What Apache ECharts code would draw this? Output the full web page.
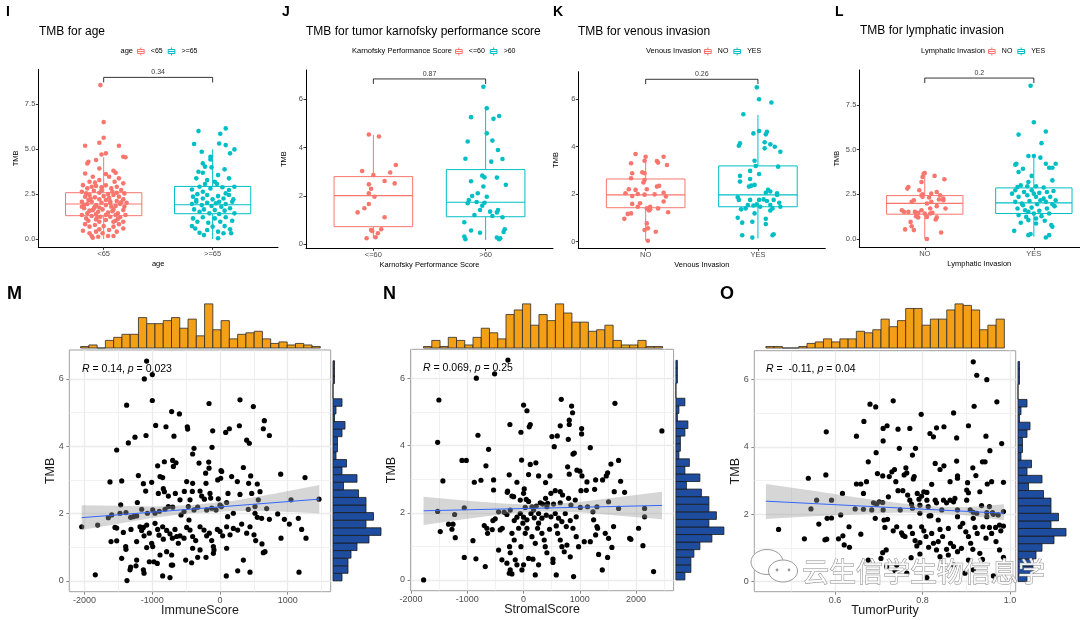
<!DOCTYPE html>
<html>
<head>
<meta charset="utf-8">
<title>TMB panels</title>
<script src="https://cdn.jsdelivr.net/npm/echarts@6/dist/echarts.min.js"></script>
<style>
html, body { margin: 0; padding: 0; background: #fff; }
#main { width: 1080px; height: 620px; }
</style>
</head>
<body>
<div id="main"></div>
<script>
var FONT = '"Liberation Sans", Arial, sans-serif';
var RED = '#F8766D', TEAL = '#00BFC4';
var ORANGE = '#F4A016', BLUE = '#1E4C9E';

// ---------- box panels: [lo, q1, median, q3, hi], points are [jitter, TMB] ----------
var ageCats = ['<65', '>=65'];
var ageBox = [[0.0, 1.3, 1.95, 2.58, 4.55], [0.0, 1.41, 1.91, 2.93, 5.0]];
var ageLowPts = [[-0.03,8.57],[0,6.51],[0,5.64],[-0.04,5.36],[-0.17,5.19],[0.14,5.19],[-0.02,4.71],[0.02,4.77],[-0.07,4.4],[0.18,4.58],[0.2,4.55],[-0.14,4.3],[-0.15,4.21],[-0.04,3.93],[0.09,3.8],[0.11,3.69],[-0.17,3.65],[-0.1,3.47],[-0.04,3.28],[0.14,3.38],[0.18,3.1],[-0.19,3.0],
[-0.2,2.63],[-0.15,2.82],[-0.11,2.91],[-0.07,2.95],[-0.02,2.88],[0.02,2.99],[0.07,2.82],[0.12,2.91],[0.16,2.73],[0.19,2.54],[-0.17,2.36],[-0.13,2.45],[-0.08,2.32],[-0.04,2.21],[0,2.39],[0.05,2.3],[0.09,2.45],[0.14,2.36],[0.18,2.21],[0.21,2.02],[-0.2,2.08],[-0.15,1.95],[-0.11,2.08],[-0.07,1.89],[-0.02,2.02],[0.02,1.89],[0.06,2.02],[0.11,1.84],[0.15,1.95],[-0.18,1.71],[-0.13,1.58],[-0.09,1.71],[-0.05,1.52],[-0.01,1.65],[0.04,1.47],[0.09,1.65],[0.13,1.43],[0.18,1.61],[-0.2,1.34],[-0.16,1.15],[-0.11,1.28],[-0.07,1.09],[-0.03,1.24],[0.02,1.06],[0.06,1.24],[0.11,1.02],[0.15,1.21],[0.2,1.34],[-0.17,0.83],[-0.13,0.69],[-0.08,0.78],[-0.04,0.54],[0,0.72],[0.05,0.5],[0.09,0.69],[0.14,0.83],[0.18,0.59],[-0.19,0.46],[-0.11,0.17],[-0.1,0.07],[-0.05,0.13],[0.04,0.17],[0.09,0.17],[-0.13,0.32],[-0.01,0.32],
[-0.16,2.54],[-0.09,2.69],[-0.04,2.58],[0.08,2.63],[0.12,2.58],[-0.14,2.17],[0.02,2.17],[0.12,2.12],[-0.2,1.8],[-0.08,1.8],[-0.04,1.76],[0.07,1.8],[0.19,1.8],[-0.15,1.43],[-0.07,1.39],[0.02,1.34],[0.11,1.34],[-0.14,1.02],[-0.04,0.96],[0.09,0.96],[0.18,0.96],[-0.07,0.41],[0.12,0.41],[0.05,3.47],[0.02,3.62],[-0.13,3.19],[0.1,3.19],[-0.08,3.14],
[-0.12,2.25],[0.04,2.5],[0.16,2.05],[-0.18,1.9],[0.08,1.55],[-0.06,1.2],[0.13,1.12],[-0.02,2.7],[0.06,2.1],[-0.1,1.6]];
var ageHighPts = [[-0.13,6.01],[0.12,6.16],[0.07,5.86],[-0.17,5.29],[0.06,5.32],[0.12,5.23],[0.2,4.99],[-0.1,4.86],[0.16,4.77],[-0.02,4.58],[-0.02,4.43],[-0.09,4.21],[-0.07,4.03],[-0.01,3.99],[-0.13,3.75],[-0.09,3.69],[0.11,3.88],[0.05,3.56],[-0.15,3.38],[-0.05,3.28],[0.02,3.19],[0.15,3.38],[0.2,2.91],
[-0.19,2.76],[-0.12,2.91],[-0.07,3.06],[-0.02,2.82],[0.04,3.06],[0.09,2.88],[0.15,2.73],[-0.18,2.36],[-0.14,2.5],[-0.09,2.26],[-0.05,2.45],[0,2.21],[0.05,2.39],[0.1,2.26],[0.15,2.45],[0.19,2.21],[-0.19,1.95],[-0.15,2.08],[-0.1,1.89],[-0.05,2.02],[-0.01,1.84],[0.03,1.99],[0.08,1.8],[0.12,1.95],[0.18,2.08],
[-0.17,1.65],[-0.12,1.52],[-0.08,1.65],[-0.03,1.43],[0.02,1.61],[0.06,1.39],[0.11,1.58],[0.16,1.71],[0.2,1.43],[-0.18,1.15],[-0.14,0.96],[-0.09,1.21],[-0.04,0.91],[0.02,1.15],[0.07,0.96],[0.12,1.21],[0.18,1.02],[-0.16,0.59],[-0.12,0.35],[-0.05,0.5],[0,0.69],[0.05,0.41],[0.1,0.32],[0.16,0.54],[0.17,0.32],[0.05,0.04],[-0.19,0.72],[-0.08,0.22],[0.11,0.72],[-0.15,2.17],[0.06,2.08],[-0.09,2.63],[0.12,2.54]];
var ageTicks = [0, 2.5, 5, 7.5];
var ageBracket = [8.72, 9.0];
var ageP = '0.34';

var kpsCats = ['<=60', '>60'];
var kpsBox = [[0.25, 0.73, 2.01, 2.8, 4.52], [0.18, 1.14, 1.74, 3.09, 5.69]];
var kpsLowPts = [[-0.04,4.54],[0.05,4.46],[0.2,3.28],[-0.1,3.03],[0.15,2.97],[0,2.87],[0.1,2.62],[0.19,2.52],[-0.04,2.48],[-0.02,2.3],[-0.04,2.11],[0.01,1.97],[-0.04,1.67],[-0.08,1.49],[-0.14,1.32],[0.1,1.12],[-0.02,0.59],[-0.01,0.55],[0.07,0.62],[0.04,0.46],[0.02,0.29],[-0.06,0.25]];
var kpsHighPts = [[-0.02,6.52],[0.01,5.63],[-0.13,5.26],[0.12,5.31],[0.07,5.19],[0.01,4.59],[-0.16,4.25],[0.06,4.29],[0.11,3.9],[-0.18,3.54],[0.15,3.53],[0.05,3.42],[-0.03,2.84],[-0.01,2.77],[0.1,2.76],[-0.13,2.61],[0.18,2.46],[-0.02,2.39],[-0.07,2.11],[-0.12,2.0],[0.01,1.97],[-0.15,1.83],[-0.16,1.7],[-0.08,1.75],[-0.01,1.72],[-0.03,1.6],[-0.05,1.42],[-0.1,1.21],[0.04,1.35],[0.11,1.42],[0.1,1.32],[0.06,1.17],[0.15,1.12],[-0.19,0.91],[0.17,0.62],[0.16,0.51],[-0.13,0.57],[-0.05,0.48],[-0.19,0.32],[-0.18,0.21],[0.1,0.28],[0.12,0.21],[0.13,0.25]];
var kpsTicks = [0, 2, 4, 6];
var kpsBracket = [6.63, 6.84];
var kpsP = '0.87';

var venCats = ['NO', 'YES'];
var venBox = [[0.04, 1.43, 1.97, 2.64, 3.61], [0.14, 1.47, 1.97, 3.19, 5.34]];
var venNoPts = [[-0.09,3.69],[0,3.58],[-0.01,3.41],[0.16,3.58],[0.1,3.4],[0.11,3.33],[0.19,3.23],[-0.13,3.3],[-0.03,2.92],[-0.01,2.88],[-0.12,2.88],[-0.13,2.67],[-0.02,2.49],[-0.01,2.6],[0.1,2.32],[0.12,2.35],[-0.15,2.21],[-0.09,2.18],[0.01,2.21],[-0.18,2.04],[-0.12,1.92],[-0.07,2.01],[-0.01,1.98],[0.08,1.99],[0.16,2.06],[0.18,1.9],[0.16,1.69],[-0.05,1.62],[-0.07,1.47],[-0.12,1.59],[0.04,1.47],[0.03,1.31],[0.04,1.36],[0.01,1.4],[0.11,1.4],[0.2,1.24],[-0.13,1.19],[-0.16,1.17],[-0.19,0.96],[0.01,0.77],[-0.01,0.49],[0.02,0.56],[0.09,0.42],[0.02,0.04]];
var venYesPts = [[-0.01,6.5],[0.01,6.0],[0.12,5.86],[-0.13,5.37],[-0.04,4.56],[0.01,4.66],[0.07,4.52],[0.08,4.63],[-0.16,4.14],[-0.17,4.04],[0.06,4.19],[0.11,4.1],[0.15,4.0],[0.2,3.79],[0.06,3.93],[-0.03,3.41],[-0.02,3.19],[0.18,3.16],[-0.07,2.98],[-0.16,2.77],[0.01,2.85],[-0.16,2.53],[-0.07,2.64],[-0.06,2.36],[-0.03,2.39],[-0.08,2.32],[0.09,2.18],[0.07,2.06],[0.11,2.11],[0.17,2.04],[0.17,1.97],[-0.18,1.87],[-0.17,1.76],[-0.07,1.76],[0.01,1.76],[0.05,1.78],[0.08,1.71],[0.14,1.76],[0.19,1.64],[0.2,1.47],[-0.09,1.54],[-0.04,1.52],[-0.01,1.57],[0.02,1.47],[0.11,1.54],[0.13,1.4],[-0.15,1.36],[-0.11,1.4],[0.11,1.31],[-0.03,1.19],[-0.18,1.01],[-0.14,0.8],[-0.05,0.84],[0.07,0.96],[0.07,0.74],[-0.14,0.27],[-0.05,0.17],[0.14,0.31],[0.13,0.27]];
var venTicks = [0, 2, 4, 6];
var venBracket = [6.64, 6.84];
var venP = '0.26';

var lymCats = ['NO', 'YES'];
var lymBox = [[0.0, 1.39, 1.99, 2.43, 3.69], [0.13, 1.43, 2.02, 2.86, 4.68]];
var lymNoPts = [[-0.01,3.65],[0,3.69],[-0.02,3.47],[-0.03,3.19],[0.09,3.53],[0.18,3.34],[-0.15,2.91],[-0.16,2.82],[-0.05,2.73],[-0.02,2.5],[0.11,2.63],[0.06,2.54],[0.14,2.45],[-0.02,2.36],[0.04,2.32],[0.17,2.26],[0.17,2.17],[-0.1,2.17],[-0.12,2.08],[0.13,2.21],[0.19,1.71],[0.02,1.99],[0.06,2.08],[0.11,1.84],[-0.21,1.61],[-0.19,1.52],[-0.15,1.52],[-0.09,1.52],[-0.06,1.47],[0,1.43],[0.05,1.43],[0.07,1.47],[-0.03,1.61],[-0.06,1.21],[0.02,1.24],[0.1,1.09],[0.11,1.21],[-0.08,1.28],[-0.13,0.96],[-0.12,0.72],[-0.18,0.54],[-0.1,0.5],[0.15,0.37],[0.02,0.0],[-0.03,2.45],[0.05,1.71]];
var lymYesPts = [[-0.03,8.57],[0,6.53],[0.11,6.01],[-0.14,5.84],[0.07,5.36],[-0.05,4.64],[0,4.64],[0.06,4.55],[0.11,4.21],[-0.17,4.16],[-0.16,4.21],[0.2,4.21],[0.14,3.99],[0.17,3.99],[-0.1,3.93],[-0.02,3.53],[0.17,3.28],[-0.05,3.19],[-0.12,3.0],[-0.15,2.91],[-0.06,2.95],[0.02,2.95],[0.09,2.88],[-0.17,2.73],[-0.09,2.63],[-0.02,2.73],[0.05,2.58],[0.12,2.63],[0.18,2.69],[-0.14,2.36],[-0.06,2.45],[0.02,2.36],[0.09,2.26],[0.15,2.36],[-0.17,2.08],[-0.11,1.99],[-0.04,2.13],[0.03,1.95],[0.11,2.08],[0.17,1.95],[-0.15,1.71],[-0.08,1.61],[-0.02,1.76],[0.05,1.58],[0.12,1.71],[0.19,1.84],[-0.14,1.34],[-0.07,1.24],[0,1.43],[0.07,1.28],[0.14,1.43],[-0.12,0.91],[-0.05,1.06],[0.02,0.87],[0.1,1.02],[0.16,0.78],[0.17,0.69],[-0.18,0.46],[-0.05,0.22],[-0.03,0.28],[0.11,0.09],[0.14,0.22],[-0.1,1.89],[0,2.54],[0.06,2.17],[-0.05,1.52],[0.02,1.15],[-0.2,2.54],[0.2,2.17],[-0.14,3.75]];
var lymTicks = [0, 2.5, 5, 7.5];
var lymBracket = [8.72, 9.0];
var lymP = '0.2';

// ---------- scatter panels: [score, TMB] ----------
var immunePts = [[-1084,6.53],[-1118,6.0],[-1000,6.13],[-1000,5.36],[-1379,5.22],[-162,5.27],[295,5.38],[492,5.18],[-714,5.03],[-600,4.96],
[-950,4.62],[-798,4.58],[-483,4.58],[-478,4.51],[-1093,4.32],[-1256,4.27],[-1354,4.1],[-1526,3.89],[-680,4.3],[-108,4.46],
[138,4.52],[84,4.41],[286,4.61],[655,4.76],[640,4.52],[729,4.32],[394,4.18],[-384,3.94],[-404,3.77],[-118,3.97],[433,4.09],
[-921,3.42],[-822,3.54],[-699,3.58],[-689,3.4],[-650,3.51],[-310,3.5],[-167,3.53],[-162,3.35],[-212,3.2],[345,3.37],[453,3.12],[896,3.17],[1256,3.07],
[-1625,2.94],[-1452,2.97],[-1206,3.13],[-1009,2.93],[-1132,2.89],[-886,3.1],[-847,3.07],[-492,2.95],[-404,2.9],[-207,2.9],[-34,3.0],[10,3.05],[25,3.25],[172,3.1],[256,2.95],[15,3.28],[423,2.9],[551,2.88],[468,2.6],[591,2.65],[295,2.57],
[-1098,2.67],[-911,2.6],[-837,2.74],[-822,2.65],[-763,2.52],[-660,2.6],[-591,2.41],[-527,2.66],[-409,2.66],[-443,2.41],[-295,2.67],[-271,2.52],[-231,2.43],[-148,2.6],[-138,2.46],[-25,2.44],[118,2.6],[20,2.21],
[-2043,1.61],[-1807,1.66],[-1650,1.88],[-1600,1.96],[-1551,1.59],[-1526,1.57],[-1477,2.01],[-1467,2.26],[-1389,2.03],[-1320,1.89],[-1280,1.91],[-1231,1.93],[-1221,2.33],[-1157,2.13],[-1073,2.01],[-994,2.11],[-960,2.01],[-896,2.07],[-812,2.13],[-763,2.21],[-699,2.19],[-576,1.96],[-532,2.06],[-468,2.21],[-384,2.11],[-330,2.19],[-197,2.11],[-123,2.16],[-59,2.11],[0,2.25],[98,2.33],[197,2.01],[418,2.13],[517,2.21],[566,2.41],[689,2.15],[517,2.01],[551,1.89],[615,1.86],[729,1.83],[852,1.99],[951,1.83],[1024,1.69],[1049,2.41],[1157,1.86],[1206,1.53],[1462,2.43],
[-1428,1.44],[-1315,1.53],[-1182,1.61],[-1157,1.5],[-1132,1.59],[-1122,1.34],[-1231,1.17],[-1610,1.17],[-1526,1.19],[-1393,1.02],[-1389,0.94],[-1083,1.66],[-1044,1.42],[-1009,1.12],[-994,1.02],[-960,1.71],[-921,1.53],[-901,1.36],[-847,1.61],[-837,1.24],[-788,1.5],[-739,1.4],[-704,1.27],[-665,1.53],[-640,1.32],[-616,1.12],[-591,1.34],[-532,1.27],[-492,1.59],[-458,1.81],[-443,1.51],[-404,1.32],[-359,1.2],[-295,1.61],[-236,1.51],[-197,1.34],[-158,1.42],[-123,1.2],[-98,1.02],[-39,1.53],[0,1.47],[39,1.34],[98,1.61],[113,1.91],[148,1.37],[197,1.56],[261,1.51],[320,1.69],[394,1.42],[443,1.61],[502,1.37],[527,1.2],[620,1.1],[640,0.84],[901,1.27],[1270,1.27],
[-1083,0.99],[-1452,0.67],[-1231,0.62],[-1329,0.33],[-1320,0.41],[-1241,0.45],[-1374,0.01],[-1842,0.18],[-1132,0.33],[-1122,0.23],[-1044,0.57],[-975,0.57],[-926,0.52],[-886,0.77],[-847,0.15],[-739,0.1],[-719,0.47],[-699,0.47],[-788,0.87],[-714,0.77],[-507,0.62],[-419,0.54],[-404,0.97],[-330,0.7],[-207,0.7],[-98,0.82],[98,0.97],[93,0.15],[261,0.3],[345,0.62],[443,0.26],[665,0.87],[1167,0.26],[-89,0.92],[-295,0.92]];
var immuneFit = [[-2043, 1.88], [1467, 2.43]];
var immuneBand = [[-2043,1.51,2.25],[-1500,1.70,2.23],[-1000,1.87,2.21],[-450,2.01,2.25],[200,2.08,2.38],[800,2.07,2.59],[1467,2.01,2.85]];
var immuneHist = [1,2,0,5,7,9,9,20,16,16,18,20,13,19,8,29,12,18,6,9,10,11,6,3,4,2,3,2,1];
var immuneHistRange = [-2059, 1481];
var immuneTicks = [-2000, -1000, 0, 1000];
var immuneMinor = [-1500, -500, 500, 1500];

var stromalPts = [[-278,6.55],[-840,6.01],[-515,6.14],[-1505,5.36],[-1528,4.1],[-1434,2.95],[-1528,2.04],[-1481,1.44],[-1777,0.0],[-811,4.31],[-622,3.89],[-1095,3.56],[-1018,3.56],[-669,3.4],[-758,2.97],[-876,2.91],[-533,2.98],[-533,2.68],[-1054,2.15],[-1226,1.95],[-1255,1.66],[-1333,1.66],[-1273,1.51],[-1214,1.26],[-1054,0.67],[-847,0.63],[-681,0.4],[-900,1.17],[-699,1.62],[-652,1.54],[-640,1.39],[-557,1.5],[-545,1.77],[-504,1.82],[-444,2.03],[-379,1.54],[-344,2.02],[-290,2.61],[-207,2.5],[-243,4.63],[-47,4.4],[0,5.21],[60,5.04],[101,4.56],[119,4.63],[-255,3.13],[-35,3.57],[-118,2.91],[12,2.71],[89,3.14],[219,3.49],[267,3.1],[119,3.44],[391,2.9],[469,3.1],[504,4.27],[599,4.29],[545,3.97],[652,4.59],[812,4.63],[812,4.76],[871,4.98],[854,5.18],[670,5.38],[795,4.19],[1032,4.51],[1032,4.35],[902,3.78],[878,3.75],[1186,3.94],[1002,3.24],[1624,5.26],[2459,4.44],[783,3.37],[812,3.15],[949,3.27],[1038,3.1],[1127,2.92],[1281,2.98],[1405,2.98],[1494,3.19],[1553,3.45],[1689,3.56],[1470,3.1],[1725,2.94],[1796,2.61],[1612,2.63],[1263,2.7],[1115,2.67],[1020,2.66],
[-284,2.65],[-177,2.48],[-59,2.38],[0,2.58],[48,2.4],[89,2.34],[149,2.18],[226,2.2],[297,2.3],[391,2.43],[486,2.58],[563,2.66],[652,2.63],[693,2.53],[800,2.43],[842,2.23],[919,2.38],[652,2.3],[533,2.26],[427,2.28],[338,2.26],[178,2.08],[30,2.16],[-59,1.98],[-118,1.87],[-166,1.77],[-237,2.08],[-296,1.95],[0,1.87],[60,1.79],[131,1.98],[190,1.85],[267,1.69],[326,1.84],[403,1.93],[415,2.18],[486,1.88],[563,1.98],[622,1.84],[681,1.74],[741,1.98],[759,1.59],[830,1.77],[936,1.88],[1008,2.16],[1138,2.18],[1233,2.03],[1304,2.18],[1511,2.33],[1689,2.13],[2151,2.13],[2151,1.88],[2044,1.54],[2122,1.02],[2311,0.25],[1245,1.79],[1316,1.54],[1452,1.39],[1511,1.24],[1600,1.59],[1570,0.97],[1494,0.67],[1334,0.76],[1399,0.3],[1885,1.24],[1908,1.21],
[-415,1.49],[-207,1.39],[-166,1.19],[-249,0.99],[-237,0.81],[-148,0.6],[-118,0.45],[-237,0.3],[-255,0.2],[-207,0.18],[-29,0.3],[0,0.45],[89,0.64],[166,0.62],[208,0.15],[267,0.45],[-47,0.99],[30,1.39],[60,1.54],[149,1.29],[208,1.09],[249,1.54],[326,1.39],[367,1.19],[385,0.99],[415,0.81],[522,0.62],[522,0.52],[581,0.15],[605,1.39],[652,1.19],[681,0.99],[723,0.84],[771,1.04],[830,0.69],[889,0.1],[936,1.29],[978,0.99],[1079,1.14],[1186,1.14],[1281,1.34],[1304,1.59],[878,1.54],[581,1.61],[462,1.51],[267,1.98],[-88,1.54],[-12,1.69],[-444,0.89],[-385,0.6],[-296,0.5]];
var stromalFit = [[-1778, 2.06], [2460, 2.22]];
var stromalBand = [[-1778,1.64,2.48],[-1000,1.82,2.36],[-300,1.97,2.27],[300,2.04,2.24],[1000,2.02,2.32],[1700,1.91,2.47],[2460,1.81,2.63]];
var stromalHist = [1,5,1,7,5,2,7,13,10,6,22,25,29,15,22,18,29,23,17,17,11,12,15,5,2,2,5,1,1];
var stromalHistRange = [-1778, 2471];
var stromalTicks = [-2000, -1000, 0, 1000, 2000];
var stromalMinor = [-1500, -500, 500, 1500, 2500];

var purityPts = [[0.916,6.53],[0.924,6.13],[0.947,6.0],[0.97,5.34],[0.918,5.21],[0.733,5.37],[0.68,5.27],[0.693,5.19],[0.797,4.97],[0.871,5.01],[0.666,4.76],[0.58,4.45],[0.649,4.32],[0.71,4.55],[0.719,4.63],[0.744,4.53],[0.771,4.55],[0.832,4.57],[0.849,4.6],[0.817,4.4],[0.825,4.3],[0.878,4.27],[0.905,4.63],[0.945,4.32],[0.981,4.1],[0.954,3.89],[0.71,4.18],[0.747,3.96],[0.784,3.96],[0.777,3.76],[0.694,3.83],[0.676,3.56],[0.539,3.07],[0.579,3.17],[0.649,2.9],[0.659,2.9],[0.672,2.97],[0.697,3.21],[0.709,3.14],[0.73,3.26],[0.736,3.33],[0.724,3.12],[0.739,2.97],[0.762,3.38],[0.764,3.23],[0.758,3.17],[0.781,3.12],[0.779,3.05],[0.821,2.89],[0.829,3.51],[0.84,3.33],[0.849,3.44],[0.863,2.97],[0.878,3.58],[0.88,3.14],[0.88,3.07],[0.903,2.94],[0.915,3.38],[0.922,3.15],[0.937,3.56],[0.943,3.56],[0.931,2.67],[0.948,2.9],[0.958,2.97],[0.985,2.95],
[0.617,2.62],[0.558,2.42],[0.592,2.42],[0.545,2.16],[0.646,2.16],[0.613,1.98],[0.665,2.62],[0.665,2.15],[0.684,2.13],[0.688,2.34],[0.695,2.3],[0.701,2.37],[0.709,2.35],[0.71,2.13],[0.712,1.83],[0.722,2.52],[0.744,2.7],[0.755,2.7],[0.749,2.13],[0.766,2.57],[0.771,2.42],[0.775,2.3],[0.777,2.18],[0.788,2.62],[0.792,2.45],[0.798,2.54],[0.803,2.67],[0.81,2.65],[0.794,2.27],[0.794,2.03],[0.81,2.42],[0.813,2.23],[0.819,1.96],[0.829,2.42],[0.832,2.34],[0.844,2.13],[0.848,2.42],[0.855,2.34],[0.863,2.42],[0.871,2.37],[0.874,2.47],[0.88,2.13],[0.88,1.93],[0.901,2.42],[0.901,2.72],[0.905,2.64],[0.909,2.13],[0.916,2.06],[0.924,2.03],[0.935,2.26],[0.947,2.05],[0.953,2.23],[0.96,2.05],[0.962,2.0],[0.973,1.98],[0.985,2.08],[0.947,1.93],[0.916,1.88],
[0.471,1.55],[0.563,1.71],[0.582,1.88],[0.592,1.89],[0.53,1.27],[0.577,1.24],[0.581,1.26],[0.608,1.27],[0.618,1.36],[0.621,1.09],[0.633,1.02],[0.632,1.63],[0.659,1.41],[0.692,1.88],[0.714,1.61],[0.72,1.85],[0.733,1.51],[0.741,1.63],[0.752,1.45],[0.755,1.38],[0.76,1.34],[0.771,1.63],[0.777,1.43],[0.783,1.22],[0.787,1.06],[0.794,1.16],[0.798,1.63],[0.803,1.51],[0.808,1.34],[0.815,1.95],[0.821,1.43],[0.825,1.14],[0.836,1.83],[0.84,1.55],[0.846,1.34],[0.859,1.58],[0.864,1.14],[0.871,1.04],[0.88,0.89],[0.886,1.63],[0.892,1.73],[0.899,1.48],[0.905,1.34],[0.91,1.14],[0.915,0.96],[0.92,1.61],[0.925,1.43],[0.938,1.63],[0.945,1.29],[0.953,1.61],[0.958,1.43],[0.967,1.61],[0.976,1.68],[0.979,1.51],[0.985,1.65],[0.968,1.19],[0.976,0.94],[0.931,0.84],[0.889,0.99],[0.855,0.96],[0.832,0.94],[0.814,1.02],[0.836,1.19],
[0.709,0.86],[0.717,0.94],[0.705,0.69],[0.718,0.45],[0.737,0.33],[0.774,0.71],[0.794,0.82],[0.81,0.12],[0.84,0.74],[0.859,0.79],[0.871,0.49],[0.905,0.64],[0.916,0.35],[0.937,0.66],[0.962,0.17],[0.985,0.72],[0.676,0.64],[0.741,0.49],[0.764,0.25],[0.897,0.25]];
var purityFit = [[0.442, 2.39], [0.986, 2.03]];
var purityBand = [[0.442,1.86,2.90],[0.55,1.94,2.70],[0.65,2.00,2.50],[0.75,2.05,2.33],[0.83,2.03,2.23],[0.9,1.97,2.21],[0.986,1.82,2.30]];
var purityHist = [1,1,0,0,1,3,4,6,4,6,6,11,10,12,19,14,18,26,26,15,19,19,25,29,28,25,12,15,19];
var purityHistRange = [0.442, 0.987];
var purityTicks = [0.6, 0.8, 1.0];
var purityMinor = [0.5, 0.7, 0.9];

// TMB histogram (same for the three right margins), bins from 0 upwards
var tmbHist = [6,10,10,12,16,24,32,22,27,22,22,17,7,16,6,9,2,3,3,6,8,1,2,6,0,0,1,1,1];
var tmbHistRange = [0, 6.54];
var tmbTicks = [0, 2, 4, 6];
var tmbMinor = [1, 3, 5];

var option = {
    animation: false,
    backgroundColor: '#fff',
    textStyle: { fontFamily: FONT },
    grid: [], xAxis: [], yAxis: [], series: [], legend: [], graphic: []
};

var BOX_ICON = 'path://M5,0V3M5,9V12M0,3H10V9H0ZM0,6H10';

function renderBox(params, api) {
    var c = api.value(0);
    var hw = 0.35;
    var color = api.visual('color');
    var a = api.coord([c - hw, api.value(4)]);
    var b = api.coord([c + hw, api.value(2)]);
    var m0 = api.coord([c - hw, api.value(3)]);
    var m1 = api.coord([c + hw, api.value(3)]);
    var top = api.coord([c, api.value(5)]);
    var bot = api.coord([c, api.value(1)]);
    var st = { stroke: color, lineWidth: 1, fill: null };
    return {
        type: 'group',
        children: [
            { type: 'line', shape: { x1: top[0], y1: top[1], x2: top[0], y2: a[1] }, style: st },
            { type: 'line', shape: { x1: bot[0], y1: bot[1], x2: bot[0], y2: b[1] }, style: st },
            { type: 'rect', shape: { x: a[0], y: a[1], width: b[0] - a[0], height: b[1] - a[1] }, style: { fill: '#fff', stroke: color, lineWidth: 1 } },
            { type: 'line', shape: { x1: m0[0], y1: m0[1], x2: m1[0], y2: m1[1] }, style: { stroke: color, lineWidth: 1.2 } }
        ]
    };
}

function addBoxPanel(p) {
    var gi = option.grid.length;
    option.grid.push({ left: p.left, top: p.top, width: p.width, height: p.height, containLabel: false, outerBoundsMode: 'none' });
    option.xAxis.push({
        gridIndex: gi, type: 'value', min: -0.6, max: 1.6,
        axisLine: { show: true, onZero: false, lineStyle: { color: '#000', width: 1 } },
        axisTick: { show: true, customValues: [0, 1], length: 2.5, lineStyle: { color: '#333' } },
        axisLabel: { customValues: [0, 1], formatter: function (v) { return p.cats[Math.round(v)]; }, fontSize: 7.5, color: '#4D4D4D', margin: 3, fontFamily: FONT },
        splitLine: { show: false },
        name: p.xName, nameLocation: 'middle', nameGap: 13, nameMoveOverlap: false,
        nameTextStyle: { fontSize: 7.5, color: '#000', fontFamily: FONT }
    });
    option.yAxis.push({
        gridIndex: gi, type: 'value', min: p.ymin, max: p.ymax,
        axisLine: { show: true, onZero: false, lineStyle: { color: '#000', width: 1 } },
        axisTick: { show: true, customValues: p.ticks, length: 2.5, lineStyle: { color: '#333' } },
        axisLabel: { customValues: p.ticks, formatter: function (v) { return v.toFixed(p.dec); }, fontSize: 7.5, color: '#4D4D4D', margin: 3, fontFamily: FONT },
        splitLine: { show: false },
        name: 'TMB', nameLocation: 'middle', nameGap: 18, nameRotate: 90, nameMoveOverlap: false,
        nameTextStyle: { fontSize: 7.5, color: '#000', fontFamily: FONT }
    });
    var cols = [RED, TEAL];
    p.cats.forEach(function (c, k) {
        option.series.push({
            type: 'custom', name: c, xAxisIndex: gi, yAxisIndex: gi, renderItem: renderBox,
            itemStyle: { color: cols[k] }, data: [[k].concat(p.box[k])], encode: { x: 0, y: [1, 2, 3, 4, 5] }, z: 2, silent: true
        });
        option.series.push({
            type: 'scatter', name: c, xAxisIndex: gi, yAxisIndex: gi, symbolSize: 4.6,
            itemStyle: { color: cols[k], opacity: 1 },
            data: p.pts[k].map(function (d) { return [k + d[0], d[1]]; }), z: 3, silent: true
        });
    });
    option.series.push({
        type: 'line', xAxisIndex: gi, yAxisIndex: gi, symbol: 'none', silent: true, z: 4,
        lineStyle: { color: '#000', width: 0.8 },
        data: [[0, p.bracket[0]], [0, p.bracket[1]], [1, p.bracket[1]], [1, p.bracket[0]]]
    });
    option.series.push({
        type: 'scatter', xAxisIndex: gi, yAxisIndex: gi, symbolSize: 0, silent: true, z: 4,
        data: [[0.5, p.bracket[1]]],
        label: { show: true, position: 'top', distance: 1.5, formatter: p.pval, fontSize: 7, color: '#000', fontFamily: FONT }
    });
    option.legend.push({
        left: p.legendLeft, top: 47, padding: 0, itemWidth: 10, itemHeight: 8, itemGap: 5, selectedMode: false,
        textStyle: { fontSize: 7, color: '#000', fontFamily: FONT },
        data: p.cats.map(function (c, k) {
            return { name: c, icon: BOX_ICON, itemStyle: { color: '#fff', borderColor: cols[k], borderWidth: 1 } };
        })
    });
}

function histData(counts, range) {
    var w = (range[1] - range[0]) / counts.length;
    return counts.map(function (c, i) { return [range[0] + i * w, range[0] + (i + 1) * w, c]; });
}

function addScatterPanel(p) {
    var gi = option.grid.length;
    var axisTxt = { fontSize: 9, color: '#4D4D4D', fontFamily: FONT };
    option.grid.push({ left: p.left, top: p.top, width: p.width, height: p.height, show: true, borderColor: '#A0A0A0', borderWidth: 1, backgroundColor: '#fff', containLabel: false, outerBoundsMode: 'none' });
    option.xAxis.push({
        gridIndex: gi, type: 'value', min: p.xmin, max: p.xmax,
        axisLine: { show: false, onZero: false },
        axisTick: { show: true, customValues: p.xTicks, length: 3, lineStyle: { color: '#8C8C8C' } },
        axisLabel: Object.assign({ customValues: p.xTicks, margin: 4.5, formatter: p.xFmt }, axisTxt),
        splitLine: { show: false },
        name: p.xName, nameLocation: 'middle', nameGap: 12.5, nameMoveOverlap: false,
        nameTextStyle: { fontSize: 12.5, color: '#1A1A1A', fontFamily: FONT }
    });
    option.yAxis.push({
        gridIndex: gi, type: 'value', min: p.ymin, max: p.ymax,
        axisLine: { show: false, onZero: false },
        axisTick: { show: true, customValues: tmbTicks, length: 3, lineStyle: { color: '#8C8C8C' } },
        axisLabel: Object.assign({ customValues: tmbTicks, margin: 5.5, formatter: function (v) { return String(v); } }, axisTxt),
        splitLine: { show: false },
        name: 'TMB', nameLocation: 'middle', nameGap: 12.5, nameRotate: 90, nameMoveOverlap: false,
        nameTextStyle: { fontSize: 12.5, color: '#1A1A1A', fontFamily: FONT }
    });
    var lines = [];
    p.xTicks.forEach(function (v) { lines.push({ xAxis: v, lineStyle: { width: 1.3 } }); });
    p.xMinor.forEach(function (v) { if (v > p.xmin && v < p.xmax) lines.push({ xAxis: v, lineStyle: { width: 0.7 } }); });
    tmbTicks.forEach(function (v) { lines.push({ yAxis: v, lineStyle: { width: 1.3 } }); });
    tmbMinor.forEach(function (v) { lines.push({ yAxis: v, lineStyle: { width: 0.7 } }); });
    option.series.push({
        type: 'scatter', xAxisIndex: gi, yAxisIndex: gi, data: [], z: 0, silent: true,
        markLine: { z: 0, silent: true, symbol: ['none', 'none'], label: { show: false }, animation: false,
            lineStyle: { color: '#EBEBEB', type: 'solid' }, data: lines }
    });
    option.series.push({
        type: 'scatter', xAxisIndex: gi, yAxisIndex: gi, data: p.pts, symbolSize: 5.2, z: 2, silent: true,
        itemStyle: { color: '#000', opacity: 1 }
    });
    option.series.push({
        type: 'custom', xAxisIndex: gi, yAxisIndex: gi, data: p.band, z: 3, silent: true,
        encode: { x: 0, y: [1, 2] },
        renderItem: function (params, api) {
            if (params.dataIndex !== 0) return null;
            var up = p.band.map(function (b) { return api.coord([b[0], b[2]]); });
            var lo = p.band.slice().reverse().map(function (b) { return api.coord([b[0], b[1]]); });
            return { type: 'polygon', shape: { points: up.concat(lo) }, style: { fill: 'rgba(153,153,153,0.4)' } };
        }
    });
    option.series.push({
        type: 'line', xAxisIndex: gi, yAxisIndex: gi, data: p.fit, symbol: 'none', z: 4, silent: true,
        lineStyle: { color: '#3366FF', width: 1 }
    });

    // top marginal histogram
    var gt = option.grid.length;
    option.grid.push({ left: p.left, top: 303, width: p.width, height: 45, containLabel: false, outerBoundsMode: 'none' });
    option.xAxis.push({ gridIndex: gt, type: 'value', min: p.xmin, max: p.xmax, show: false });
    option.yAxis.push({ gridIndex: gt, type: 'value', min: 0, max: Math.max.apply(null, p.hist) * 1.02, show: false });
    option.series.push({
        type: 'custom', xAxisIndex: gt, yAxisIndex: gt, data: histData(p.hist, p.histRange), silent: true,
        encode: { x: [0, 1], y: 2 },
        renderItem: function (params, api) {
            var p0 = api.coord([api.value(0), api.value(2)]);
            var p1 = api.coord([api.value(1), 0]);
            return { type: 'rect', shape: { x: p0[0], y: p0[1], width: p1[0] - p0[0], height: p1[1] - p0[1] },
                style: { fill: ORANGE, stroke: '#2B2B2B', lineWidth: 0.8 } };
        }
    });

    // right marginal histogram
    var gr = option.grid.length;
    option.grid.push({ left: p.left + p.width + 2.3, top: p.top, width: 48, height: p.height, containLabel: false, outerBoundsMode: 'none' });
    option.xAxis.push({ gridIndex: gr, type: 'value', min: 0, max: Math.max.apply(null, tmbHist), show: false });
    option.yAxis.push({ gridIndex: gr, type: 'value', min: p.ymin, max: p.ymax, show: false });
    option.series.push({
        type: 'custom', xAxisIndex: gr, yAxisIndex: gr, data: histData(tmbHist, tmbHistRange), silent: true,
        encode: { x: 2, y: [0, 1] },
        renderItem: function (params, api) {
            var p0 = api.coord([0, api.value(1)]);
            var p1 = api.coord([api.value(2), api.value(0)]);
            return { type: 'rect', shape: { x: p0[0], y: p0[1], width: p1[0] - p0[0], height: p1[1] - p0[1] },
                style: { fill: BLUE, stroke: '#1A1A1A', lineWidth: 0.8 } };
        }
    });
}

addBoxPanel({ left: 38.3, top: 69.3, width: 239.7, height: 178, ymin: -0.46, ymax: 9.45, ticks: ageTicks, dec: 1,
    cats: ageCats, box: ageBox, pts: [ageLowPts, ageHighPts], bracket: ageBracket, pval: ageP, xName: 'age', legendLeft: 137 });
addBoxPanel({ left: 306, top: 70, width: 247, height: 178.3, ymin: -0.165, ymax: 7.21, ticks: kpsTicks, dec: 0,
    cats: kpsCats, box: kpsBox, pts: [kpsLowPts, kpsHighPts], bracket: kpsBracket, pval: kpsP, xName: 'Karnofsky Performance Score', legendLeft: 455 });
addBoxPanel({ left: 578.3, top: 71.7, width: 247, height: 176.6, ymin: -0.28, ymax: 7.16, ticks: venTicks, dec: 0,
    cats: venCats, box: venBox, pts: [venNoPts, venYesPts], bracket: venBracket, pval: venP, xName: 'Venous Invasion', legendLeft: 704 });
addBoxPanel({ left: 859.3, top: 70, width: 240, height: 177.3, ymin: -0.46, ymax: 9.45, ticks: lymTicks, dec: 1,
    cats: lymCats, box: lymBox, pts: [lymNoPts, lymYesPts], bracket: lymBracket, pval: lymP, xName: 'Lymphatic Invasion', legendLeft: 988 });

var intFmt = function (v) { return String(v); };
addScatterPanel({ left: 69.3, top: 350, width: 261.4, height: 241.7, xmin: -2226, xmax: 1635, ymin: -0.32, ymax: 6.86,
    xTicks: immuneTicks, xMinor: immuneMinor, xFmt: intFmt, xName: 'ImmuneScore',
    pts: immunePts, fit: immuneFit, band: immuneBand, hist: immuneHist, histRange: immuneHistRange });
addScatterPanel({ left: 410.5, top: 349.3, width: 263.1, height: 241.4, xmin: -2010, xmax: 2667, ymin: -0.32, ymax: 6.87,
    xTicks: stromalTicks, xMinor: stromalMinor, xFmt: intFmt, xName: 'StromalScore',
    pts: stromalPts, fit: stromalFit, band: stromalBand, hist: stromalHist, histRange: stromalHistRange });
addScatterPanel({ left: 754.3, top: 350.7, width: 261.4, height: 241, xmin: 0.4155, xmax: 1.013, ymin: -0.30, ymax: 6.86,
    xTicks: purityTicks, xMinor: purityMinor, xFmt: function (v) { return v.toFixed(1); }, xName: 'TumorPurity',
    pts: purityPts, fit: purityFit, band: purityBand, hist: purityHist, histRange: purityHistRange });

// ---------- text ----------
function txt(x, y, s, size, extra) {
    var st = { text: s, fontSize: size, fontFamily: FONT, fill: '#000', verticalAlign: 'middle', align: 'left' };
    for (var k in extra) st[k] = extra[k];
    option.graphic.push({ type: 'text', x: x, y: y, silent: true, z: 100, style: st });
}
txt(6, 12, 'I', 14, { fontWeight: 'bold' });
txt(282, 12, 'J', 14, { fontWeight: 'bold' });
txt(553, 12, 'K', 14, { fontWeight: 'bold' });
txt(835, 12, 'L', 14, { fontWeight: 'bold' });
txt(39, 32, 'TMB for age', 12);
txt(306, 32, 'TMB for tumor karnofsky performance score', 12);
txt(578, 32, 'TMB for venous invasion', 12);
txt(860, 31, 'TMB for lymphatic invasion', 12);
txt(133, 51, 'age', 7.5, { align: 'right' });
txt(452, 51, 'Karnofsky Performance Score', 7.5, { align: 'right' });
txt(701, 51, 'Venous Invasion', 7.5, { align: 'right' });
txt(985, 51, 'Lymphatic Invasion', 7.5, { align: 'right' });
txt(7, 294, 'M', 18, { fontWeight: 'bold' });
txt(383, 294, 'N', 18, { fontWeight: 'bold' });
txt(720, 294, 'O', 18, { fontWeight: 'bold' });
var rich = { i: { fontStyle: 'italic', fontSize: 10.5, fontFamily: FONT, fill: '#000' }, n: { fontSize: 10.5, fontFamily: FONT, fill: '#000' } };
txt(82, 369, '{i|R}{n| = 0.14, }{i|p}{n| = 0.023}', 10.5, { rich: rich });
txt(423, 368, '{i|R}{n| = 0.069, }{i|p}{n| = 0.25}', 10.5, { rich: rich });
txt(766, 369, '{i|R}{n| =  -0.11, }{i|p}{n| = 0.04}', 10.5, { rich: rich });

// watermark
option.graphic.push({ type: 'ellipse', silent: true, z: 100, shape: { cx: 767, cy: 562, rx: 16, ry: 12.5 }, style: { fill: 'rgba(255,255,255,0.85)', stroke: '#9A9A9A', lineWidth: 1 } });
option.graphic.push({ type: 'ellipse', silent: true, z: 101, shape: { cx: 783, cy: 571, rx: 14.5, ry: 11 }, style: { fill: 'rgba(255,255,255,0.9)', stroke: '#9A9A9A', lineWidth: 1 } });
option.graphic.push({ type: 'circle', silent: true, z: 102, shape: { cx: 777, cy: 570, r: 1.4 }, style: { fill: '#9A9A9A' } });
option.graphic.push({ type: 'circle', silent: true, z: 102, shape: { cx: 789, cy: 570, r: 1.4 }, style: { fill: '#9A9A9A' } });
option.graphic.push({ type: 'text', x: 802, y: 572, silent: true, z: 102, style: {
    text: '云生信学生物信息学', fontSize: 27, fontFamily: '"Noto Sans CJK SC", sans-serif',
    fill: 'rgba(255,255,255,0.9)', stroke: '#8A8A8A', lineWidth: 1, verticalAlign: 'middle', align: 'left' } });

var chart = echarts.init(document.getElementById('main'));
chart.setOption(option);
</script>
</body>
</html>
